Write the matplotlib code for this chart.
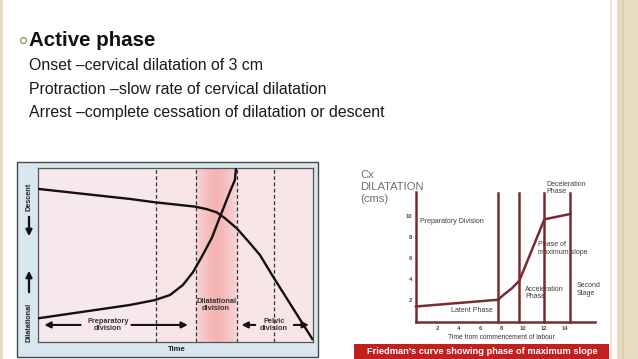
import numpy as np
import matplotlib
matplotlib.use("Agg")
import matplotlib.pyplot as plt
from matplotlib.patches import Rectangle

plt.rcParams['font.family'] = ['Liberation Sans', 'DejaVu Sans']

# ---------------- data ----------------
title_text = "Active phase"
bullet_lines = [
    "Onset \u2013cervical dilatation of 3 cm",
    "Protraction \u2013slow rate of cervical dilatation",
    "Arrest \u2013complete cessation of dilatation or descent",
]

# Left chart (schematic, arbitrary 0-100 units)
descent_x = [0, 33.5, 42.5, 57.1, 61.3, 65.0, 68.0, 72.3, 77.1, 80.7, 85.5, 100]
descent_y = [88, 82.2, 80.3, 77.8, 76.4, 74.5, 71.1, 65.3, 56.7, 50.0, 37.5, 1.1]
dilat_x = [0, 33.5, 42.5, 48.0, 52.7, 56.4, 59.9, 63.2, 66.2, 69.8, 71.6, 72.0]
dilat_y = [13.6, 21.3, 24.1, 27.0, 32.8, 40.2, 50.0, 59.8, 72.0, 86.4, 93.1, 100]
division_bounds = [42.9, 57.5, 72.4, 85.8]
dilatational_band = (57.5, 72.4)

# Right chart (Friedman's curve)
friedman_time = [0, 7.7, 8.2, 9.0, 9.7, 12.05, 14.5]
friedman_dil = [1.43, 2.07, 2.52, 3.16, 3.89, 9.73, 10.24]
phase_lines = [7.7, 9.7, 12.05, 14.5]
phase_line_top = 12.2
x_ticks = [2, 4, 6, 8, 10, 12, 14]
y_ticks = [2, 4, 6, 8, 10]

W, H = 638, 359
fig = plt.figure(figsize=(W / 100, H / 100), dpi=100)
fig.patch.set_facecolor('white')

def fr(x0, y0, x1, y1):
    return [x0 / W, 1 - y1 / H, (x1 - x0) / W, (y1 - y0) / H]

# background / slide decoration axes
bg = fig.add_axes([0, 0, 1, 1])
bg.set_xlim(0, W)
bg.set_ylim(H, 0)
bg.axis('off')
bg.add_patch(Rectangle((0, 0), 3, H, color='#e6dcc2', lw=0))
bg.add_patch(Rectangle((609.5, 0), 2, H, color='#ebe3cf', lw=0))
bg.add_patch(Rectangle((616.5, 0), W - 616.5, H, color='#e6dcc0', lw=0))
bg.add_patch(Rectangle((622, 0), 1.5, H, color='#ddd1b2', lw=0))

# bullet and text
bg.plot([23], [40], marker='o', ms=4.2, mfc='none', mec='#a99d70', mew=1.1)
bg.text(29, 40, title_text, fontsize=14.8, fontweight='bold', va='center', ha='left', color='#111111')
for i, line in enumerate(bullet_lines):
    bg.text(29, 66 + i * 23, line, fontsize=11.4, va='center', ha='left', color='#1a1a1a')

# left chart frame
bg.add_patch(Rectangle((17, 162), 301, 195, facecolor='#d8e6ed', edgecolor='#4a4a4a', lw=1.0))

# left chart axis annotations
bg.text(29, 196.5, "Descent", rotation=90, fontsize=5.2, fontweight='bold', ha='center', va='center', color='#222222')
bg.annotate("", xy=(29, 239), xytext=(29, 214),
            arrowprops=dict(arrowstyle='-|>', color='#111111', lw=1.6, mutation_scale=9))
bg.text(29, 322, "Dilatational", rotation=90, fontsize=5.2, fontweight='bold', ha='center', va='center', color='#222222')
bg.annotate("", xy=(29, 268), xytext=(29, 295),
            arrowprops=dict(arrowstyle='-|>', color='#111111', lw=1.6, mutation_scale=9))
bg.text(177, 349.5, "Time", fontsize=5.6, fontweight='bold', ha='center', va='center', color='#222222')

# left chart plot
ax1 = fig.add_axes(fr(38, 168, 313, 342))
ax1.set_xlim(0, 100)
ax1.set_ylim(0, 100)
xs = np.linspace(0, 100, 800)
base = np.array([0.972, 0.912, 0.922])
img = np.tile(base, (len(xs), 1))
b0, b1 = dilatational_band
pre = (xs > division_bounds[0]) & (xs < b0)
img[pre] = np.array([0.972, 0.895, 0.905])
inb = (xs >= b0) & (xs <= b1)
c = (b0 + b1) / 2
t = np.clip(1 - np.abs(xs[inb] - c) / ((b1 - b0) / 2), 0, 1) ** 0.7
edge = np.array([0.97, 0.85, 0.855])
center = np.array([0.965, 0.70, 0.70])
img[inb] = edge + (center - edge) * t[:, None]
post = xs > b1
img[post] = np.array([0.972, 0.9, 0.91])
ax1.imshow(img[None, :, :], extent=[0, 100, 0, 100], aspect='auto', zorder=0, interpolation='bilinear')
for xb in division_bounds:
    ax1.axvline(xb, color='#333333', lw=0.9, ls=(0, (3, 2)), zorder=1)
ax1.plot(descent_x, descent_y, color='#111111', lw=1.7, zorder=3, solid_capstyle='butt')
ax1.plot(dilat_x, dilat_y, color='#111111', lw=1.7, zorder=3, solid_capstyle='butt')
ax1.set_xticks([])
ax1.set_yticks([])
for s in ax1.spines.values():
    s.set_color('#555555')
    s.set_linewidth(0.9)

# division arrows / labels (axes data coords)
ax1.annotate("", xy=(1.3, 9.8), xytext=(16.5, 9.8),
             arrowprops=dict(arrowstyle='-|>', color='#111111', lw=1.5, mutation_scale=9), zorder=4)
ax1.annotate("", xy=(55.5, 9.8), xytext=(33, 9.8),
             arrowprops=dict(arrowstyle='-|>', color='#111111', lw=1.5, mutation_scale=9), zorder=4)
ax1.text(25.5, 9.8, "Preparatory\ndivision", fontsize=5.3, fontweight='bold', ha='center', va='center',
         color='#333333', linespacing=1.0)
ax1.text(64.8, 21.5, "Dilatational\ndivision", fontsize=5.3, fontweight='bold', ha='center', va='center',
         color='#333333', linespacing=1.0)
ax1.annotate("", xy=(73, 9.8), xytext=(80, 9.8),
             arrowprops=dict(arrowstyle='-|>', color='#111111', lw=1.5, mutation_scale=9), zorder=4)
ax1.annotate("", xy=(99.5, 9.8), xytext=(92, 9.8),
             arrowprops=dict(arrowstyle='-|>', color='#111111', lw=1.5, mutation_scale=9), zorder=4)
ax1.text(85.8, 9.8, "Pelvic\ndivision", fontsize=5.3, fontweight='bold', ha='center', va='center',
         color='#333333', linespacing=1.0)

# right chart
red = '#7a2c30'
ax2 = fig.add_axes(fr(416, 192, 595, 321.5))
ax2.set_xlim(0, 16.8)
ax2.set_ylim(0, 12.33)
ax2.patch.set_alpha(0)
for side in ['top', 'right']:
    ax2.spines[side].set_visible(False)
for side in ['left', 'bottom']:
    ax2.spines[side].set_color(red)
    ax2.spines[side].set_linewidth(1.8)
for xl in phase_lines:
    ax2.plot([xl, xl], [0, phase_line_top], color=red, lw=1.8, clip_on=False)
ax2.plot(friedman_time, friedman_dil, color=red, lw=1.8, clip_on=False)
ax2.set_xticks(x_ticks)
ax2.set_xticklabels([str(v) for v in x_ticks])
ax2.set_yticks(y_ticks)
ax2.set_yticklabels([str(v) for v in y_ticks])
ax2.tick_params(length=0, labelsize=4.2, colors='#444444', pad=3)
for lab in ax2.get_xticklabels() + ax2.get_yticklabels():
    lab.set_fontweight('bold')

small = dict(fontsize=5.0, color='#3a3a3a')
bg.text(360, 175, "Cx", fontsize=8.1, color='#707070', ha='left', va='center')
bg.text(360, 187, "DILATATION", fontsize=8.1, color='#707070', ha='left', va='center')
bg.text(360, 198.5, "(cms)", fontsize=8.1, color='#707070', ha='left', va='center')
bg.text(420, 221.7, "Preparatory Division", ha='left', va='center', **small)
bg.text(472, 310, "Latent Phase", ha='center', va='center', **small)
bg.text(537.5, 248.5, "Phase of\nmaximum slope", ha='left', va='center', linespacing=1.1, **small)
bg.text(525, 293, "Acceleration\nPhase", ha='left', va='center', linespacing=1.1, **small)
bg.text(546.5, 188, "Deceleration\nPhase", ha='left', va='center', linespacing=1.1, **small)
bg.text(577, 289.7, "Second\nStage", ha='left', va='center', linespacing=1.1, **small)
bg.text(501.5, 337.5, "Time from commencement of labour", ha='center', va='center', fontsize=4.8, color='#333333')

# banner
bg.add_patch(Rectangle((354, 344.3), 255, 14.7, color='#c1201f', lw=0))
bg.text(482, 351.6, "Friedman's curve showing phase of maximum slope", ha='center', va='center',
        fontsize=6.7, fontweight='bold', color='white')

fig.savefig('out.png', dpi=100, facecolor='white')
